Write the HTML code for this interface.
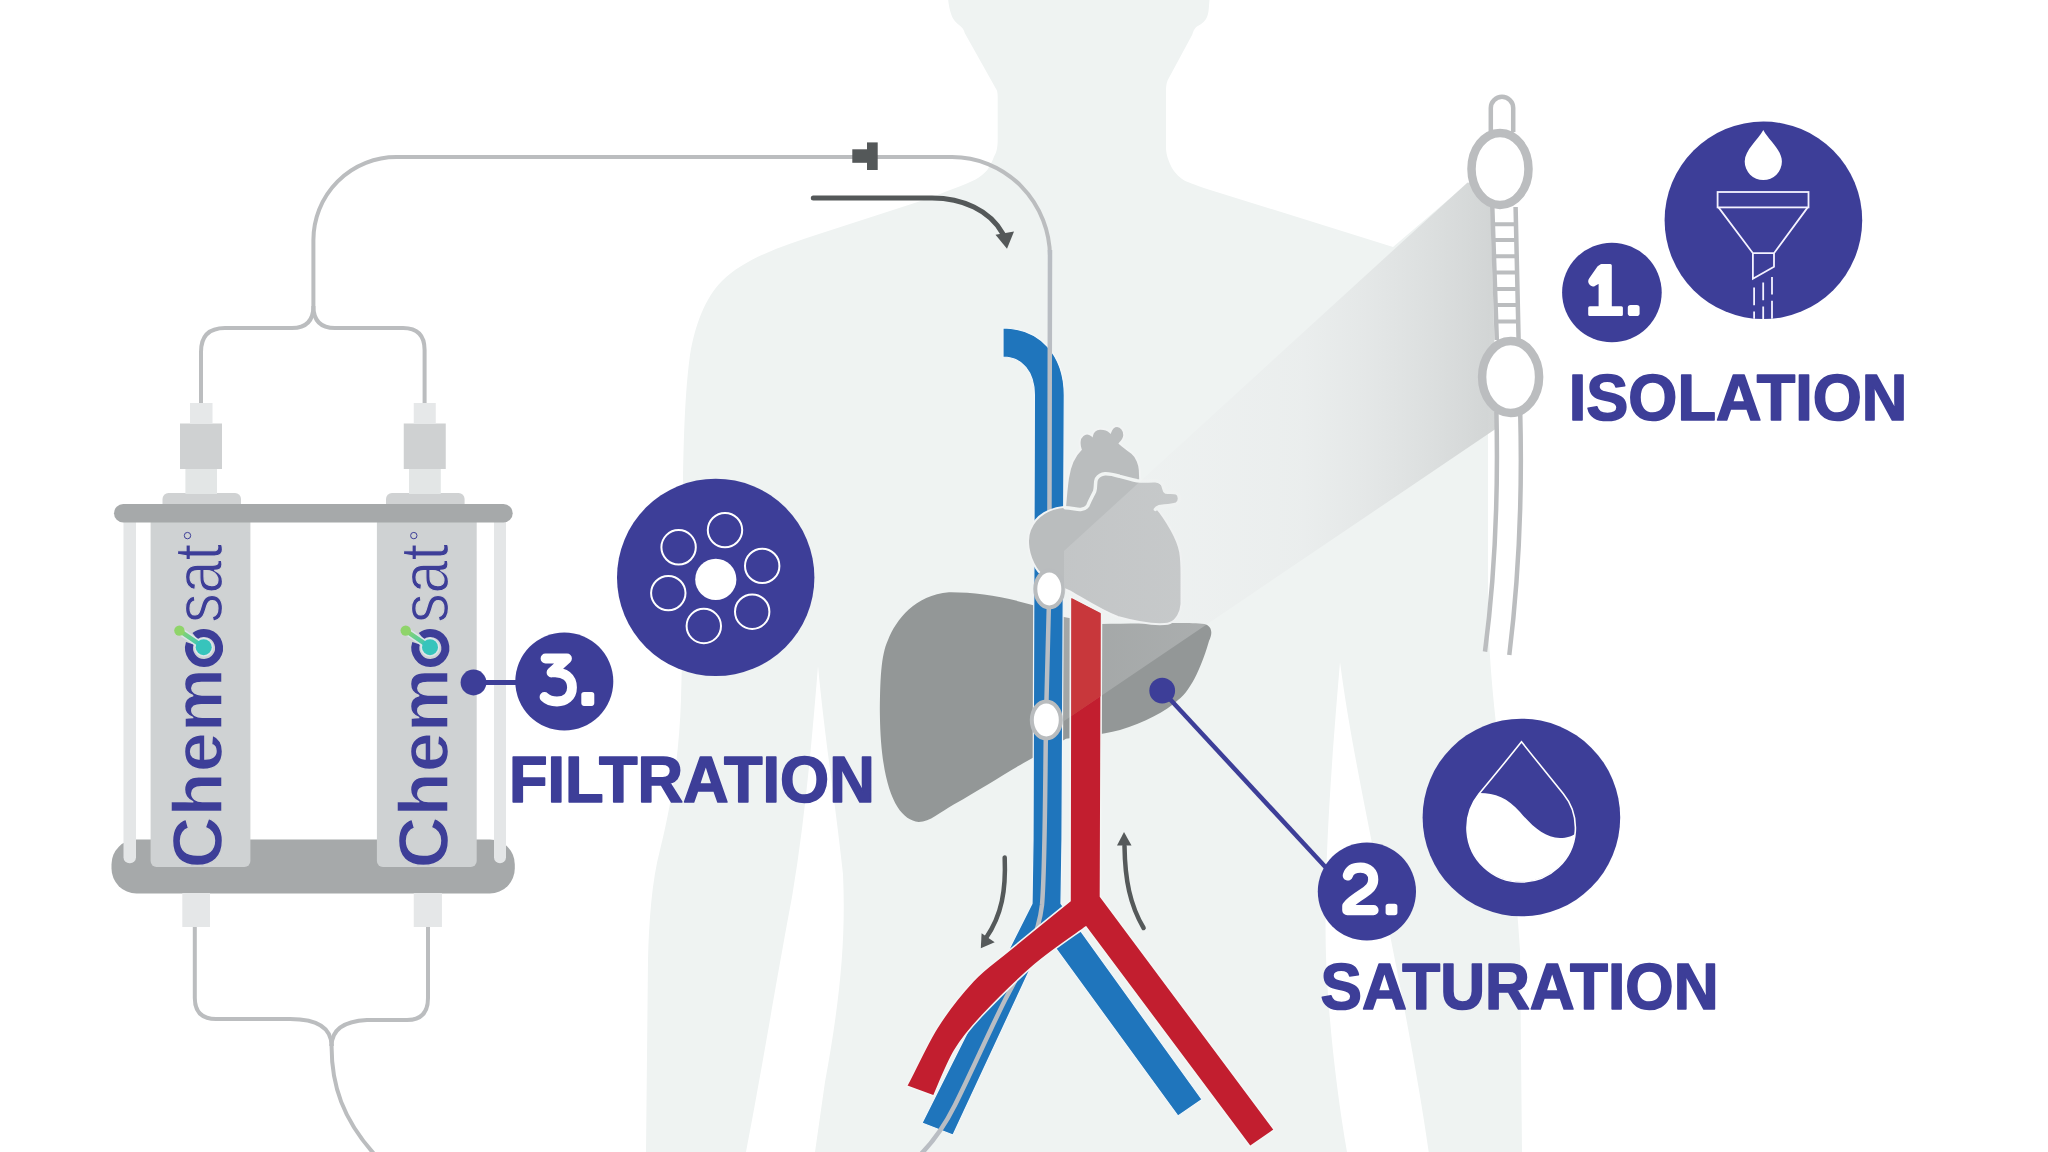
<!DOCTYPE html>
<html>
<head>
<meta charset="utf-8">
<style>
html,body{margin:0;padding:0;background:#ffffff;width:2048px;height:1152px;overflow:hidden;}
svg{display:block;}
text{font-family:"Liberation Sans",sans-serif;}
</style>
</head>
<body>
<svg width="2048" height="1152" viewBox="0 0 2048 1152">
<defs>
<linearGradient id="band" gradientUnits="userSpaceOnUse" x1="1064" y1="0" x2="1492" y2="0">
<stop offset="0" stop-color="#eeeff0" stop-opacity="0.17"/>
<stop offset="0.55" stop-color="#e2e4e5" stop-opacity="0.36"/>
<stop offset="1" stop-color="#cfd2d2" stop-opacity="0.92"/>
</linearGradient>
<linearGradient id="teal" x1="0" y1="0" x2="1" y2="1">
<stop offset="0" stop-color="#8fd46a"/>
<stop offset="1" stop-color="#2ec4c4"/>
</linearGradient>
<clipPath id="isoclip"><circle cx="1763.4" cy="220.3" r="98.8"/></clipPath>
</defs>

<!-- background -->
<rect x="0" y="0" width="2048" height="1152" fill="#ffffff"/>

<!-- body silhouette -->
<path id="body" fill="#eff3f2" d="M948.2,0 C949,8 951,15 953.4,19.1 C955,22 959,25 962.1,27.8 C963.5,29.5 964.2,31 964.7,33 L996.8,90.3 C997.4,92 997.7,94 997.7,97.2 L997.7,138.9 C997.7,148 996.5,152 994.2,156.25 C992,162 990,166 987.3,170 C982,176 978,178 973.4,180.6 C965,185 955,188 947.4,191 L930,198 L822,233 C785,245 745,258 722,281 C705,298 695,325 690,355 C686,385 684,420 683,480 C682,560 683,650 681,700 C679,760 670,810 660,850 C652,880 649,920 648,960 L646,1152 L746,1152 C760,1080 780,960 792,897 C805,820 812,740 818,666 C825,740 835,800 843,874 C846,940 840,1000 825,1082 L815,1152 L1347,1152 C1336,1090 1326,1000 1325.6,935 C1325,860 1330,780 1340,662 C1350,740 1370,830 1390,935 C1405,1010 1420,1090 1428.7,1152 L1522,1152 L1520,950 C1512,820 1490,720 1488,610 L1488,430 L1492,190 L1469,182 L1393,247 L1207.8,189.2 C1195,185 1186,182 1181.7,178.8 C1176,174 1173,170 1171.3,166.7 C1167,158 1166,152 1166,147.6 L1166,90.3 C1166,86 1166.5,83 1167.8,79.9 L1192.2,34.7 C1193,32 1194,29.5 1195.6,27.8 C1197.5,26 1199,25.5 1200.8,24.3 C1203,22.5 1205,21 1206,19.1 C1207.5,16 1208.3,13 1208.6,10.4 L1209.5,0 Z"/>

<!-- left tubing -->
<g fill="none" stroke="#bbbdbf" stroke-width="4" stroke-linecap="butt">
<path d="M201,405 L201,352 Q201,328 225,328 L292,328 Q313.4,328 313.4,306 L313.4,240 A83,83 0 0 1 396.4,157 L952,157 A98,100 0 0 1 1050,257 L1050,560"/>
<path d="M313.4,306 Q313.4,328 335,328 L403,328 Q424.6,328 424.6,350 L424.6,405"/>
<path d="M194.8,925 L194.8,998 Q194.8,1019 216,1019 L290,1019 C315,1019 331.6,1026 331.6,1046"/>
<path d="M428,925 L428,998 Q428,1020 407,1020 L367,1020 C347,1021 331.6,1028 331.6,1046"/>
<path d="M331.6,1044 C331,1085 343,1120 376,1156"/>
</g>

<!-- catheter connector -->
<rect x="852.3" y="149.3" width="15" height="13.5" fill="#545859"/>
<rect x="867" y="142.4" width="10.7" height="27.6" fill="#545859"/>
<!-- top arrow -->
<path d="M813.3,198 L932,198 C962,198 990,210 1003,234" fill="none" stroke="#545859" stroke-width="5" stroke-linecap="round"/>
<polygon points="995.5,234.7 1014,231.6 1007,248.7" fill="#545859"/>

<!-- filter device -->
<g id="filters">
<rect x="162.5" y="493" width="78.5" height="20" rx="6" fill="#d0d2d3"/>
<rect x="386" y="493" width="78.6" height="20" rx="6" fill="#d0d2d3"/>
<rect x="185.4" y="469" width="31.6" height="25" fill="#e3e6e6"/>
<rect x="409" y="469" width="31.8" height="25" fill="#e3e6e6"/>
<rect x="180" y="423.5" width="42" height="45.5" fill="#cfd1d2"/>
<rect x="403.75" y="423.5" width="42" height="45.5" fill="#cfd1d2"/>
<rect x="190" y="403" width="22.5" height="20.5" fill="#e6e8e9"/>
<rect x="413.75" y="403" width="22" height="20.5" fill="#e6e8e9"/>
<rect x="111.5" y="839.4" width="403.3" height="54.1" rx="25" fill="#a6a9aa"/>
<rect x="182.3" y="893" width="27.7" height="34" fill="#e5e7e8"/>
<rect x="413.75" y="893" width="28.2" height="34" fill="#e5e7e8"/>
<rect x="123.5" y="515" width="12.5" height="348.3" rx="6" fill="#e4e6e7"/>
<rect x="494" y="515" width="12" height="348.3" rx="6" fill="#e4e6e7"/>
<rect x="150.6" y="510" width="99.8" height="357" rx="6" fill="#cfd2d3"/>
<rect x="376.9" y="510" width="99.8" height="357" rx="6" fill="#cfd2d3"/>
<rect x="114" y="504" width="398.7" height="18.5" rx="9.25" fill="#a6a9aa"/>
</g>

<!-- chemosat labels -->
<g id="chemo1" transform="translate(222,865) rotate(-90)">
<text x="-3.5" y="0" font-size="71" font-weight="bold" fill="#3d3e98" stroke="#cfd2d3" stroke-width="1.4" textLength="200.5" lengthAdjust="spacingAndGlyphs">Chem</text>
<text x="242" y="0" font-size="68" fill="#3d3e98" stroke="#cfd2d3" stroke-width="1.2" textLength="79" lengthAdjust="spacingAndGlyphs">sat</text>
<circle cx="329.4" cy="-34.5" r="3.2" fill="none" stroke="#3d3e98" stroke-width="1"/>
</g>
<g transform="translate(226.3,0)">
<g transform="translate(222,865) rotate(-90)">
<text x="-3.5" y="0" font-size="71" font-weight="bold" fill="#3d3e98" stroke="#cfd2d3" stroke-width="1.4" textLength="200.5" lengthAdjust="spacingAndGlyphs">Chem</text>
<text x="242" y="0" font-size="68" fill="#3d3e98" stroke="#cfd2d3" stroke-width="1.2" textLength="79" lengthAdjust="spacingAndGlyphs">sat</text>
<circle cx="329.4" cy="-34.5" r="3.2" fill="none" stroke="#3d3e98" stroke-width="1"/>
</g>
</g>
<g id="o1">
<path d="M194.9,636.1 A15,15 0 1 1 189.8,643.3" fill="none" stroke="#3d3e98" stroke-width="8" stroke-linecap="butt"/>
<path d="M179.4,630.6 L203.7,647.2" stroke="#dde5ea" stroke-width="7.5" stroke-linecap="round"/>
<circle cx="203.7" cy="647.2" r="9.6" fill="#dde5ea"/>
<path d="M179.4,630.6 L203.7,647.2" stroke="url(#teal)" stroke-width="4.5"/>
<circle cx="203.7" cy="647.2" r="8" fill="#37c4bc"/>
<circle cx="179.4" cy="630.6" r="5.2" fill="#8fd46a"/>
</g>
<g transform="translate(226.3,0)">
<path d="M194.9,636.1 A15,15 0 1 1 189.8,643.3" fill="none" stroke="#3d3e98" stroke-width="8" stroke-linecap="butt"/>
<path d="M179.4,630.6 L203.7,647.2" stroke="#dde5ea" stroke-width="7.5" stroke-linecap="round"/>
<circle cx="203.7" cy="647.2" r="9.6" fill="#dde5ea"/>
<path d="M179.4,630.6 L203.7,647.2" stroke="url(#teal)" stroke-width="4.5"/>
<circle cx="203.7" cy="647.2" r="8" fill="#37c4bc"/>
<circle cx="179.4" cy="630.6" r="5.2" fill="#8fd46a"/>
</g>

<!-- liver -->
<path id="liver" fill="#939797" d="M949,592.3 C975,592 1005,597 1033.4,605.2 C1045,609 1055,613 1063.8,617 L1101,624 C1140,624 1185,622 1204.4,624 C1212,626 1213,633 1209,641 C1203,662 1192,690 1178,700 C1165,712 1145,722 1120,730 C1100,735 1080,737 1066,738.7 C1055,745 1045,751 1033.4,757.5 C1010,770 985,787 953.7,804.4 C940,812 930,822 918.6,821.9 C898,820 881,790 879.9,715.3 C880,680 881,655 888,640 C896,620 915,595 949,592.3 Z"/>

<!-- blue vein -->
<path id="vein" fill="#1f75bc" stroke="#f3f7f9" stroke-width="1.2" d="M1003,328 C1040,328 1064.3,355 1064.3,395 L1062,840 L1061,903.6 L1202,1099.5 L1178,1116 L1046,935 L953,1135 L922,1123 L1032,903.6 L1033,840 L1034.4,395 C1034.4,372 1022,357 1003,357 Z"/>
<!-- catheter inside vein -->
<path d="M1050,250 L1049.3,588 L1046,720 C1045,800 1045,870 1042,905 C1038,940 1018,975 1005,1000 C990,1030 970,1075 955,1105 C945,1125 935,1140 920,1155" fill="none" stroke="#b9bdc3" stroke-width="4.5"/>

<!-- red artery -->
<path id="artery" fill="#c21e2f" stroke="#f3f6f5" stroke-width="1.6" d="M1070.5,597 L1101.5,613 L1100.5,896.4 L1274.3,1129.8 L1250,1146.6 L1086,927 C1077.5,933.3 1052.2,949.9 1034.9,964.7 C1017.6,979.5 995.4,1001.5 982.0,1015.8 C968.6,1030.1 962.8,1037.0 954.7,1050.4 C946.7,1063.8 937.2,1088.4 933.7,1096.0 L906.5,1086 C912.2,1076.4 925.6,1046.1 936.5,1028.6 C947.4,1011.1 960.8,994.3 972.9,981.2 C985.0,968.1 993.2,963.6 1009.4,950.2 C1025.6,936.8 1059.9,909.1 1070.0,900.9 Z"/>

<!-- heart -->
<path id="heart" fill="#babdbe" stroke="#f2f4f4" stroke-width="2" d="M1065.1,506.8 C1066,495 1067,485 1068,478 C1070,465 1075,455 1080.8,449.5 C1079,445 1079,438 1082.5,435.6 C1085,433 1089,433 1092,435.6 C1093,431 1096,429 1099.9,428.7 C1104,428.5 1108,430 1110.3,432.2 C1112,428 1114,426 1117.2,426.1 C1121,426.5 1124.5,430 1124.2,435.6 C1124,439 1122,441 1119.8,443.4 C1124,447 1128,450 1132,453 C1137,457 1139.5,465 1139.8,470 L1140.2,480 C1148,480 1152,480 1155.4,480.8 C1160,481.5 1163,484 1165.8,492 C1170,492 1174,492 1176.3,492.9 C1180,494 1181,502 1176.3,504.2 C1170,507 1163,507 1157,508.5 C1162,514 1167,522 1171.5,530 C1176,538 1179,546 1180.2,552 C1181.5,560 1181.5,570 1181.5,574 L1181.5,604 C1181,612 1177,620 1170,623 C1168,624 1166,624 1164.6,624 C1150,625 1132,621 1117.7,617 C1100,610 1085,600 1071,592 C1055,585 1042,578 1036,568 C1028,555 1026,540 1030,530 C1036,515 1050,508 1065.1,506.8 Z"/>
<path d="M1065.1,507.7 C1072,508 1078,510 1080.8,509.4 C1085,509 1087,507 1087.7,505.9 C1090,500 1093,495 1094.7,491.2 C1096,487 1095,482 1096.4,479 C1099,475 1102,474 1105,473.8 C1110,473.5 1115,475 1119.8,476.4 C1127,478 1132,480 1137.2,480.8 C1145,481.5 1150,480.5 1155.4,480.8 C1160,481 1163,484 1163.2,486 C1164,489 1164,491 1165.8,492 C1170,492.5 1174,492 1176.3,492.9 C1180,494 1181,502 1176.3,504.2 C1170,506 1162,506 1158.9,506.8 C1157,507.5 1156,508.5 1155.4,509.4" fill="none" stroke="#f1f4f3" stroke-width="3.5" stroke-linecap="round"/>

<!-- balloons on catheter -->
<ellipse cx="1049.3" cy="589" rx="14" ry="18.5" fill="#ffffff" stroke="#b9bcbe" stroke-width="4"/>
<ellipse cx="1046.3" cy="720" rx="14.5" ry="18.5" fill="#ffffff" stroke="#b9bcbe" stroke-width="4"/>

<!-- light band -->
<polygon points="1064,551 1467.5,182.4 1490,190 1497,428 1064,721" fill="url(#band)"/>
<polygon points="1071.5,598 1100.5,613 1100.5,696.3 1071.5,715.9" fill="#c8373b"/>

<!-- arrows near vessels -->
<path d="M1004.7,857.5 C1006,890 1002,915 986,938" fill="none" stroke="#55595a" stroke-width="4.5" stroke-linecap="round"/>
<polygon points="980.8,948.2 981.6,933.3 994.7,942.3" fill="#55595a"/>
<path d="M1143.6,928 C1130,905 1125,880 1124.5,846" fill="none" stroke="#55595a" stroke-width="4.5" stroke-linecap="round"/>
<polygon points="1124,832 1117,845.5 1131.5,845.5" fill="#55595a"/>

<!-- isolation catheter device -->
<g fill="none" stroke="#bbbdbf">
<path d="M1490.8,132 L1490.8,108 A11.2,11.2 0 0 1 1513.2,108 L1513.2,132" stroke-width="4.5"/>
<path d="M1492.3,207 L1496.8,340 M1515.6,207 L1518.6,340" stroke-width="4.5"/>
<path d="M1493,224.3 H1516 M1493,240.1 H1516 M1493.5,256.2 H1516.5 M1494,272.6 H1517 M1494,289 H1517.5 M1494.5,304.9 H1518 M1495,321.6 H1518" stroke-width="4"/>
<path d="M1496.4,412 C1498,480 1497,560 1485,651.6 M1520.2,412 C1522,480 1521,560 1509.3,655" stroke-width="4.5"/>
<ellipse cx="1500" cy="168.9" rx="28.5" ry="36" fill="#ffffff" stroke-width="8.5"/>
<ellipse cx="1510.6" cy="377" rx="28.5" ry="36" fill="#ffffff" stroke-width="8.5"/>
</g>

<!-- liver dot line -->
<line x1="1162.2" y1="690.7" x2="1330" y2="872" stroke="#3d3e98" stroke-width="4.5"/>
<circle cx="1162.2" cy="690.7" r="12.9" fill="#3d3e98"/>
<!-- filter dot line -->
<line x1="473.5" y1="682.5" x2="520" y2="682.5" stroke="#3d3e98" stroke-width="5"/>
<circle cx="473.5" cy="682.5" r="12.9" fill="#3d3e98"/>

<!-- purple circles -->
<g fill="#3d3e98">
<circle cx="1763.4" cy="220.3" r="98.8"/>
<circle cx="1611.9" cy="292.5" r="49.8"/>
<circle cx="715.7" cy="577.4" r="98.7"/>
<circle cx="564.3" cy="681.5" r="49"/>
<circle cx="1521.4" cy="817.5" r="98.8"/>
<circle cx="1366.9" cy="891.5" r="49.1"/>
</g>

<!-- isolation icon -->
<path d="M1763.3,130 C1758,140 1744.7,150 1744.7,161.5 A18.6,18.6 0 0 0 1781.9,161.5 C1781.9,150 1768.6,140 1763.3,130 Z" fill="#ffffff"/>
<g fill="none" stroke="#f4f2ff" stroke-width="1.8" clip-path="url(#isoclip)">
<rect x="1717.6" y="192" width="90.9" height="15.4"/>
<path d="M1718.5,207.4 L1752.9,253.2 L1774,253.2 L1807.7,207.4"/>
<path d="M1752.9,253.2 L1752.9,278.8 L1774,266.8 L1774,253.2"/>
<path d="M1754.1,287.6 V305.2 M1754.1,311.5 V322"/>
<path d="M1763.2,282.6 V300.2 M1763.2,306.5 V322"/>
<path d="M1772,277 V294.5 M1772,300.8 V322"/>
</g>

<!-- filtration icon -->
<circle cx="715.8" cy="579.4" r="20.6" fill="#ffffff"/>
<g fill="none" stroke="#ffffff" stroke-width="2">
<circle cx="725" cy="530.1" r="17.2"/>
<circle cx="762.2" cy="565.9" r="17.2"/>
<circle cx="752.2" cy="611.7" r="17.2"/>
<circle cx="703.8" cy="626" r="17.2"/>
<circle cx="668.3" cy="593.1" r="17.2"/>
<circle cx="678.6" cy="547.3" r="17.2"/>
</g>

<!-- saturation icon -->
<path d="M1521.5,741.8 Q1503,765 1479.1,793.7 A54.2,54.2 0 1 0 1563.3,793.7 Q1540,765 1521.5,741.8 Z" fill="#3d3e98" stroke="#ffffff" stroke-width="1.6"/>
<path d="M1479.5,793 C1495,793 1508,798 1520,812 C1532,826 1545,838 1560,838 C1567,838 1572,836 1575,834 A54.2,54.2 0 1 1 1479.5,793 Z" fill="#ffffff"/>

<!-- numbers -->
<g fill="none" stroke="#ffffff" stroke-linecap="round" stroke-linejoin="round">
<path d="M545.5,658.5 L567,658.5 L551.5,672.5 C565,671 572,678 572,687.5 C572,697 565,701.5 557,701.5 C551,701.5 547,699.5 544.5,697" stroke-width="9.8"/>
<path d="M1347.8,875.5 C1349.5,870 1354,867.7 1360.5,867.7 C1368.5,867.7 1373.2,872.5 1373.2,879.5 C1373.2,886 1369,889.5 1363,893.5 C1356,898 1350,902 1347.3,906 L1347.3,910.2 L1373.5,910.2" stroke-width="10.2"/>
<path d="M1601.5,265.4 L1610.3,265.4 L1610.3,307.75 L1621.4,307.75 L1621.4,314.5 L1589.7,314.5 L1589.7,307.75 L1600.1,307.75 L1600.1,281.5 L1594.5,284.5 C1591,286 1588.5,282 1590.5,279 L1598.5,267.5 Z" fill="#ffffff" stroke-width="3"/>
</g>
<g fill="#ffffff">
<rect x="581.3" y="692" width="13" height="13.9" rx="2.8"/>
<rect x="1385.6" y="903.8" width="11.8" height="11.5" rx="2.8"/>
<rect x="1627.8" y="304.9" width="11.8" height="11.1" rx="2.8"/>
</g>

<!-- labels -->
<g fill="#3d3e98" stroke="#3d3e98" stroke-width="1.6" stroke-linejoin="round" font-weight="bold" font-size="64">
<text x="1568.8" y="420" textLength="338.6" lengthAdjust="spacingAndGlyphs">ISOLATION</text>
<text x="509" y="802.3" textLength="365.7" lengthAdjust="spacingAndGlyphs">FILTRATION</text>
<text x="1320.5" y="1009.3" textLength="398" lengthAdjust="spacingAndGlyphs">SATURATION</text>
</g>
</svg>
</body>
</html>
